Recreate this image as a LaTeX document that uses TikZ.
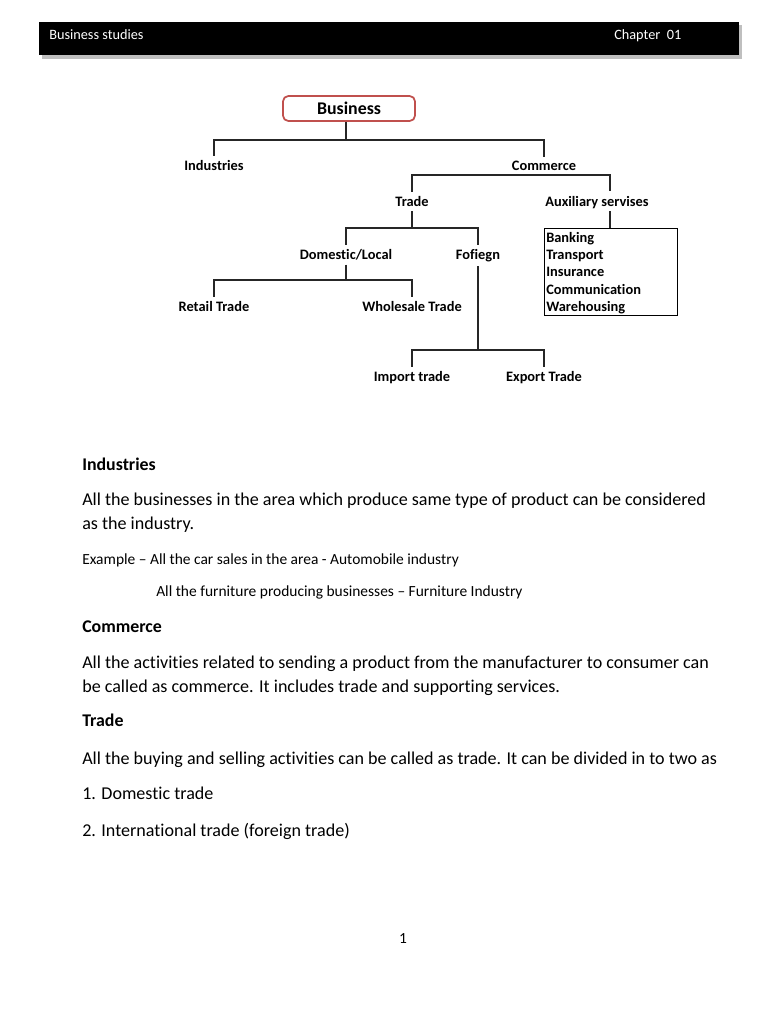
\documentclass[tikz,border=0pt]{standalone}
\usepackage{fontspec}
\setmainfont{Carlito}[Ligatures={TeX,NoCommon}]
\begin{document}
\begin{tikzpicture}[x=0.75pt,y=-0.75pt,
  lbl/.style={font=\fontsize{10.8}{12}\selectfont\bfseries, inner xsep=1pt, inner ysep=3.2pt, anchor=base},
  conn/.style={line width=1.1pt, draw=black!85},
  body/.style={font=\fontsize{13.55}{16}\selectfont, anchor=base west, inner sep=0pt},
  head/.style={font=\fontsize{13.4}{16}\selectfont\bfseries, anchor=base west, inner sep=0pt},
  small/.style={font=\fontsize{11.6}{13}\selectfont, anchor=base west, inner sep=0pt}]
\useasboundingbox[fill=white] (0,0) rectangle (768,1024);
% header
\fill[black!25] (42,25) rectangle (742,59);
\fill[black] (39,22) rectangle (739,55);
\node[font=\fontsize{10.7}{12}\selectfont, text=white, anchor=base west, inner sep=0pt] (hl) at (49,40) {Business studies};
\node[font=\fontsize{10.7}{12}\selectfont, text=white, anchor=base west, inner sep=0pt] (hr) at (614,40) {Chapter\ \ 01};
% tree
\node[draw={rgb,255:red,192;green,80;blue,77}, line width=1.3pt, rounded corners=4pt, minimum width=99pt, minimum height=18.75pt, font=\fontsize{13.4}{15}\selectfont\bfseries] (bus) at (349,108.5) {Business};
\node[lbl] (ind) at (214,170.5) {Industries};
\node[lbl] (com) at (544,170.5) {Commerce};
\node[lbl] (tra) at (412,206.5) {Trade};
\node[lbl] (aux) at (597,206.5) {Auxiliary servises};
\node[lbl] (dom) at (346,259.5) {Domestic/Local};
\node[lbl] (for) at (478,259.5) {Fofiegn};
\node[lbl] (ret) at (214,311.5) {Retail Trade};
\node[lbl] (who) at (412,311.5) {Wholesale Trade};
\node[lbl] (imp) at (412,381.5) {Import trade};
\node[lbl] (exp) at (544,381.5) {Export Trade};
\node[draw, line width=1.1pt, minimum width=99.75pt, minimum height=65.25pt, anchor=north west] (box) at (544,228) {};
\node[font=\fontsize{10.8}{12}\selectfont\bfseries, anchor=west, inner sep=0pt, align=left] (svc) at (546,273) {Banking\\[1pt]Transport\\[1pt]Insurance\\[1pt]Communication\\[1pt]Warehousing};
% junction coordinates
\coordinate (j0) at (346,140);
\coordinate (j1) at (544,175);
\coordinate (j2) at (412,228);
\coordinate (j3) at (346,280);
\coordinate (j4) at (478,350);
\coordinate (auxT) at (610,191);
\coordinate (auxB) at (610,211);
% connectors
\draw[conn] (bus.south -| j0) -- (j0);
\draw[conn] (ind.north) |- (j0) -| (com.north);
\draw[conn] (tra.north) |- (j1) -| (auxT);
\draw[conn] (tra.south) -- (j2);
\draw[conn] (dom.north) |- (j2) -| (for.north);
\draw[conn] (auxB) -- (box.north -| auxB);
\draw[conn] (dom.south) -- (j3);
\draw[conn] (ret.north) |- (j3) -| (who.north);
\draw[conn] (for.south) -- (j4);
\draw[conn] (imp.north) |- (j4) -| (exp.north);
% body text
\node[head] (h1) at (82,470) {Industries};
\node[body] (p1) at (82,505.5) {All the businesses in the area which produce same type of product can be considered};
\node[body] (p1b) at (82,529.5) {as the industry.};
\node[small] (ex1) at (82,564.5) {Example -- All the car sales in the area - Automobile industry};
\node[small] (ex2) at (156,596.5) {All the furniture producing businesses -- Furniture Industry};
\node[head] (h2) at (82,632) {Commerce};
\node[body] (p2) at (82,668.5) {All the activities related to sending a product from the manufacturer to consumer can};
\node[body] (p2b) at (82,692.5) {be called as commerce. It includes trade and supporting services.};
\node[head] (h3) at (82,726) {Trade};
\node[body] (p3) at (82,764.5) {All the buying and selling activities can be called as trade. It can be divided in to two as};
\node[body] (l1) at (82,799.5) {1. Domestic trade};
\node[body] (l2) at (82,836.5) {2. International trade (foreign trade)};
\node[small, anchor=base] (pg) at (403,943) {1};
\end{tikzpicture}
\end{document}
